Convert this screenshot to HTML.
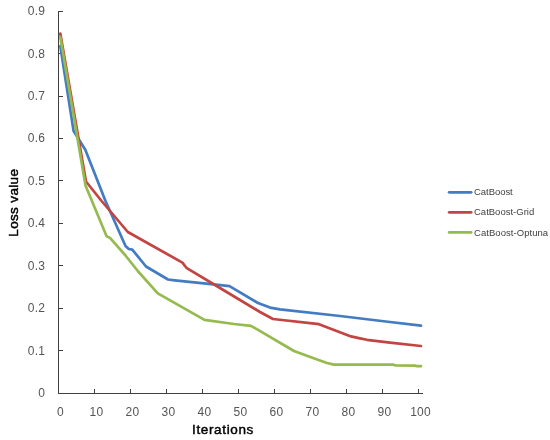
<!DOCTYPE html>
<html><head><meta charset="utf-8"><title>Loss curves</title>
<style>
html,body{margin:0;padding:0;background:#fff;}
body{width:550px;height:440px;overflow:hidden;}
svg{display:block;}
text{font-family:"Liberation Sans",sans-serif;}
.tick{font-size:12px;fill:#555;letter-spacing:0.3px;}
.leg{font-size:9.5px;fill:#404040;}
.ttl{font-size:13.5px;fill:#000;stroke:#000;stroke-width:0.45px;}
</style></head><body>
<svg width="550" height="440" viewBox="0 0 550 440">
<rect width="550" height="440" fill="#fff"/>
<g stroke="#404040" stroke-width="1" fill="none" shape-rendering="crispEdges">
<line x1="58.5" y1="11" x2="58.5" y2="394"/>
<line x1="58" y1="393.5" x2="422.5" y2="393.5"/>
<line x1="59" y1="393.5" x2="63" y2="393.5"/>
<line x1="59" y1="350.5" x2="63" y2="350.5"/>
<line x1="59" y1="308.5" x2="63" y2="308.5"/>
<line x1="59" y1="265.5" x2="63" y2="265.5"/>
<line x1="59" y1="223.5" x2="63" y2="223.5"/>
<line x1="59" y1="180.5" x2="63" y2="180.5"/>
<line x1="59" y1="138.5" x2="63" y2="138.5"/>
<line x1="59" y1="96.5" x2="63" y2="96.5"/>
<line x1="59" y1="53.5" x2="63" y2="53.5"/>
<line x1="59" y1="11.5" x2="63" y2="11.5"/>
<line x1="58.5" y1="389" x2="58.5" y2="393"/>
<line x1="94.5" y1="389" x2="94.5" y2="393"/>
<line x1="130.5" y1="389" x2="130.5" y2="393"/>
<line x1="166.5" y1="389" x2="166.5" y2="393"/>
<line x1="202.5" y1="389" x2="202.5" y2="393"/>
<line x1="238.5" y1="389" x2="238.5" y2="393"/>
<line x1="274.5" y1="389" x2="274.5" y2="393"/>
<line x1="310.5" y1="389" x2="310.5" y2="393"/>
<line x1="346.5" y1="389" x2="346.5" y2="393"/>
<line x1="382.5" y1="389" x2="382.5" y2="393"/>
<line x1="418.5" y1="389" x2="418.5" y2="393"/>
</g>
<g fill="none" stroke-width="2.7" stroke-linejoin="round" stroke-linecap="round">
<polyline stroke="#437cc2" points="60.3,46 73.6,131 85.3,149.8 105.5,201 125.5,246 128.8,249 132.3,249.6 146,266.5 168,279.5 174.7,280.3 216,284.6 229.5,286.2 258,303 270,307.6 280,309.4 340,316 390,322 421,325.6"/>
<polyline stroke="#c34543" points="60.3,33.5 86.0,181.5 101.6,201 127.8,232 182.4,262.6 186.4,267.8 220,288 260,312 273,319 319,324.2 351,336.4 360,338.4 367,339.8 390,342.6 421,346"/>
<polyline stroke="#95ba4e" points="60.3,37 85.5,185.6 106.6,236.2 110,237.9 125.5,255.5 138.2,271.5 157.8,293.3 204.5,319.8 234,324 251,325.8 294,351 313,358 327,363 334,364.6 393,364.6 395.5,365.5 415,365.6 417,366.2 421,366.2"/>
</g>
<g class="tick" text-anchor="end">
<text x="45.3" y="397.1">0</text>
<text x="45.3" y="354.7">0.1</text>
<text x="45.3" y="312.2">0.2</text>
<text x="45.3" y="269.8">0.3</text>
<text x="45.3" y="227.3">0.4</text>
<text x="45.3" y="184.9">0.5</text>
<text x="45.3" y="142.4">0.6</text>
<text x="45.3" y="100.0">0.7</text>
<text x="45.3" y="57.5">0.8</text>
<text x="45.3" y="15.1">0.9</text>
</g>
<g class="tick" text-anchor="middle">
<text x="60.6" y="416.3">0</text>
<text x="96.6" y="416.3">10</text>
<text x="132.6" y="416.3">20</text>
<text x="168.6" y="416.3">30</text>
<text x="204.6" y="416.3">40</text>
<text x="240.6" y="416.3">50</text>
<text x="276.6" y="416.3">60</text>
<text x="312.6" y="416.3">70</text>
<text x="348.6" y="416.3">80</text>
<text x="384.6" y="416.3">90</text>
<text x="420.6" y="416.3">100</text>
</g>
<text class="ttl" text-anchor="middle" x="223" y="433.5" style="letter-spacing:0.65px">Iterations</text>
<text class="ttl" text-anchor="middle" transform="translate(17.8,202.7) rotate(-90)" style="letter-spacing:0.35px">Loss value</text>
<g fill="none" stroke-width="2.8" stroke-linecap="round">
<line stroke="#437cc2" x1="449.2" y1="192.3" x2="471.1" y2="192.3"/>
<line stroke="#c34543" x1="449.2" y1="212.3" x2="471.1" y2="212.3"/>
<line stroke="#95ba4e" x1="449.2" y1="232.4" x2="471.1" y2="232.4"/>
</g>
<g class="leg">
<text x="474" y="195.4" style="letter-spacing:-0.05px">CatBoost</text>
<text x="474" y="215.4">CatBoost-Grid</text>
<text x="474" y="235.5" style="letter-spacing:0.05px">CatBoost-Optuna</text>
</g>
</svg></body></html>
